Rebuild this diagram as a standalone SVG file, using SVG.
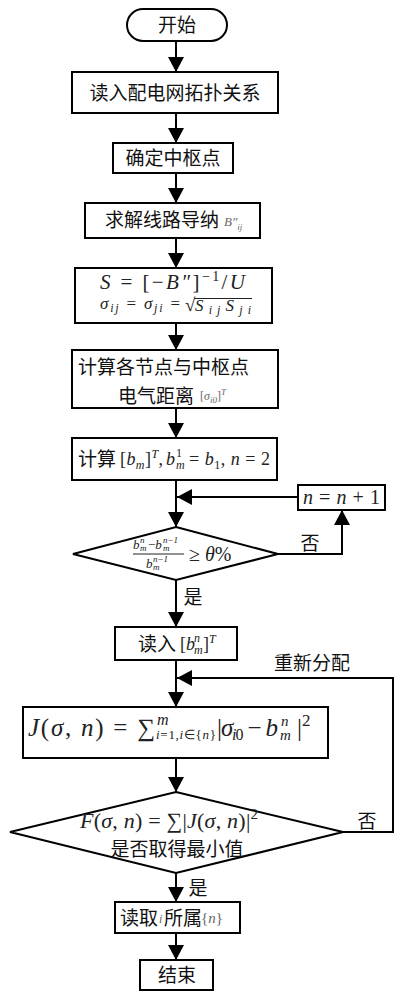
<svg xmlns="http://www.w3.org/2000/svg" width="404" height="1000" viewBox="0 0 404 1000">
<style>
.n{fill:#fff;stroke:#000;stroke-width:2}
.c{fill:none;stroke:#000;stroke-width:2}
.t{font-family:"Noto Sans CJK SC","Noto Sans",sans-serif;font-size:19px;fill:#111}
.m{font-family:"Liberation Serif",serif;fill:#222}
.i{font-style:italic}
.g{fill:#666}
</style>
<defs>
<marker id="a" markerUnits="userSpaceOnUse" markerWidth="16" markerHeight="16" refX="15" refY="8" orient="auto">
<path d="M0,0 L15,8 L0,16 z" fill="#000"/>
</marker>
</defs>
<g id="connectors">
<line class="c" x1="176" y1="41" x2="176" y2="72" marker-end="url(#a)"/>
<line class="c" x1="176" y1="113" x2="176" y2="143" marker-end="url(#a)"/>
<line class="c" x1="176" y1="173" x2="176" y2="203" marker-end="url(#a)"/>
<line class="c" x1="176" y1="238" x2="176" y2="268" marker-end="url(#a)"/>
<line class="c" x1="176" y1="323" x2="176" y2="350" marker-end="url(#a)"/>
<line class="c" x1="176" y1="408" x2="176" y2="438" marker-end="url(#a)"/>
<line class="c" x1="176" y1="480" x2="176" y2="527" marker-end="url(#a)"/>
<line class="c" x1="298" y1="497" x2="177" y2="497" marker-end="url(#a)"/>
<polyline class="c" points="278,554 342,554 342,510" marker-end="url(#a)"/>
<line class="c" x1="176" y1="580" x2="176" y2="627" marker-end="url(#a)"/>
<line class="c" x1="176" y1="660" x2="176" y2="707" marker-end="url(#a)"/>
<polyline class="c" points="343,832 393,832 393,678 177,678" marker-end="url(#a)"/>
<line class="c" x1="176" y1="758" x2="176" y2="792" marker-end="url(#a)"/>
<line class="c" x1="176" y1="873" x2="176" y2="902" marker-end="url(#a)"/>
<line class="c" x1="176" y1="933" x2="176" y2="960" marker-end="url(#a)"/>
<text class="t" x="310" y="550" text-anchor="middle">否</text>
<text class="t" x="193" y="604" text-anchor="middle">是</text>
<text class="t" x="312" y="670" text-anchor="middle">重新分配</text>
<text class="t" x="367" y="828" text-anchor="middle">否</text>
<text class="t" x="198" y="895" text-anchor="middle">是</text>
</g>
<g id="start">
<rect class="n" x="127" y="9" width="100" height="32" rx="16"/>
<text class="t" x="177" y="32" text-anchor="middle">开始</text>
</g>
<g id="read-topology">
<rect class="n" x="72" y="72" width="206" height="41"/>
<text class="t" x="175" y="100" text-anchor="middle">读入配电网拓扑关系</text>
</g>
<g id="pivot">
<rect class="n" x="113" y="143" width="120" height="30"/>
<text class="t" x="173" y="165" text-anchor="middle">确定中枢点</text>
</g>
<g id="admittance">
<rect class="n" x="85" y="203" width="175" height="35"/>
<text class="t" x="105" y="227">求解线路导纳</text>
<text class="m g i" x="224" y="226" font-size="13">B″<tspan dy="4" font-size="9">ij</tspan></text>
</g>
<g id="sensitivity">
<rect class="n" x="75" y="268" width="197" height="55"/>
<text class="m" x="100" y="289" font-size="21" textLength="145" lengthAdjust="spacing"><tspan class="i">S</tspan> = [−<tspan class="i">B″</tspan>]<tspan dy="-8" font-size="14">−1</tspan><tspan dy="8">/</tspan><tspan class="i">U</tspan></text>
<text class="m" x="100" y="309" font-size="17" textLength="80" lengthAdjust="spacing"><tspan class="i">σ</tspan><tspan class="i" dy="3" font-size="12">ij</tspan><tspan dy="-3"> = </tspan><tspan class="i">σ</tspan><tspan class="i" dy="3" font-size="12">ji</tspan><tspan dy="-3"> =</tspan></text>
<text class="m" x="185" y="311" font-size="19">√</text>
<line x1="194" y1="298.5" x2="252" y2="298.5" stroke="#222" stroke-width="1"/>
<text class="m" x="195" y="311" font-size="17" textLength="56" lengthAdjust="spacing"><tspan class="i">S</tspan><tspan class="i" dy="3" font-size="12">ij</tspan><tspan class="i" dy="-3">S</tspan><tspan class="i" dy="3" font-size="12">ji</tspan></text>
</g>
<g id="distance">
<rect class="n" x="72" y="350" width="206" height="58"/>
<text class="t" x="78" y="374">计算各节点与中枢点</text>
<text class="t" x="118" y="403">电气距离</text>
<text class="m g" x="200" y="400" font-size="12">[<tspan class="i">σ</tspan><tspan class="i" dy="3" font-size="9">i0</tspan><tspan dy="-3">]</tspan><tspan class="i" dy="-5" font-size="9">T</tspan></text>
</g>
<g id="calc-b">
<rect class="n" x="72" y="438" width="205" height="42"/>
<text class="t" x="78" y="466">计算</text>
<text class="m" x="120" y="465" font-size="18" textLength="43" lengthAdjust="spacing">[<tspan class="i">b</tspan><tspan class="i" dy="4" font-size="12">m</tspan><tspan dy="-4">]</tspan><tspan class="i" dy="-7" font-size="12">T</tspan><tspan dy="7">,</tspan></text>
<text class="m i" x="166" y="465" font-size="18">b</text>
<text class="m" x="176" y="457" font-size="12">1</text>
<text class="m i" x="176" y="469" font-size="12">m</text>
<text class="m" x="189" y="465" font-size="18" textLength="81" lengthAdjust="spacing">= <tspan class="i">b</tspan><tspan dy="4" font-size="12">1</tspan><tspan dy="-4">, </tspan><tspan class="i">n</tspan> = 2</text>
</g>
<g id="increment">
<rect class="n" x="298" y="485" width="87" height="25"/>
<text class="m" x="303" y="504" font-size="20" textLength="77" lengthAdjust="spacing"><tspan class="i">n</tspan> = <tspan class="i">n</tspan> + 1</text>
</g>
<g id="check-theta">
<polygon class="n" points="176,527 278,554 176,580 73,554"/>
<text class="m" x="133" y="549" font-size="13"><tspan class="i">b</tspan></text>
<text class="m i" x="140" y="543" font-size="9">n</text>
<text class="m i" x="140" y="551" font-size="9">m</text>
<text class="m" x="148" y="549" font-size="13">−<tspan class="i">b</tspan></text>
<text class="m i" x="163" y="543" font-size="9">n−1</text>
<text class="m i" x="163" y="551" font-size="9">m</text>
<line x1="133" y1="554" x2="184" y2="554" stroke="#222" stroke-width="1"/>
<text class="m i" x="146" y="568" font-size="13">b</text>
<text class="m i" x="153" y="562" font-size="9">n−1</text>
<text class="m i" x="153" y="570" font-size="9">m</text>
<text class="m" x="189" y="561" font-size="20">≥ <tspan class="i">θ</tspan>%</text>
</g>
<g id="read-bn">
<rect class="n" x="115" y="627" width="122" height="33"/>
<text class="t" x="138" y="651">读入</text>
<text class="m" x="180" y="650" font-size="18">[<tspan class="i">b</tspan></text>
<text class="m i" x="194" y="642" font-size="12">n</text>
<text class="m i" x="194" y="654" font-size="12">m</text>
<text class="m" x="203" y="650" font-size="18">]<tspan class="i" dy="-7" font-size="12">T</tspan></text>
</g>
<g id="objective-j">
<rect class="n" x="23" y="707" width="305" height="51"/>
<text class="m" x="28" y="736" font-size="25" textLength="127" lengthAdjust="spacing"><tspan class="i">J</tspan>(<tspan class="i">σ</tspan>, <tspan class="i">n</tspan>) = ∑</text>
<text class="m i" x="157" y="725" font-size="16">m</text>
<text class="m" x="156" y="739" font-size="13" textLength="60" lengthAdjust="spacing"><tspan class="i">i</tspan>=1,<tspan class="i">i</tspan>∈{<tspan class="i">n</tspan>}</text>
<text class="m" x="217" y="736" font-size="25" textLength="61" lengthAdjust="spacing">|<tspan class="i">σ</tspan><tspan class="i" dy="4" font-size="16">i</tspan><tspan font-size="16">0</tspan><tspan dy="-4"> − </tspan><tspan class="i">b</tspan></text>
<text class="m i" x="281" y="726" font-size="15">n</text>
<text class="m i" x="280" y="740" font-size="15">m</text>
<text class="m" x="297" y="736" font-size="25">|<tspan dy="-10" font-size="17">2</tspan></text>
</g>
<g id="objective-f">
<polygon class="n" points="176,792 343,832 176,873 10,832"/>
<text class="m" x="80" y="828" font-size="22" textLength="178" lengthAdjust="spacing"><tspan class="i">F</tspan>(<tspan class="i">σ</tspan>, <tspan class="i">n</tspan>) = ∑|<tspan class="i">J</tspan>(<tspan class="i">σ</tspan>, <tspan class="i">n</tspan>)|<tspan dy="-9" font-size="15">2</tspan></text>
<text class="t" x="177" y="856" text-anchor="middle" font-size="12.5">是否取得最小值</text>
</g>
<g id="read-group">
<rect class="n" x="115" y="902" width="125" height="31"/>
<text class="t" x="120" y="925">读取</text>
<text class="m i g" x="159" y="923" font-size="12">i</text>
<text class="t" x="164" y="925">所属</text>
<text class="m g" x="201" y="923" font-size="15">{<tspan class="i">n</tspan>}</text>
</g>
<g id="end">
<rect class="n" x="140" y="960" width="73" height="30"/>
<text class="t" x="177" y="982" text-anchor="middle">结束</text>
</g>
</svg>
